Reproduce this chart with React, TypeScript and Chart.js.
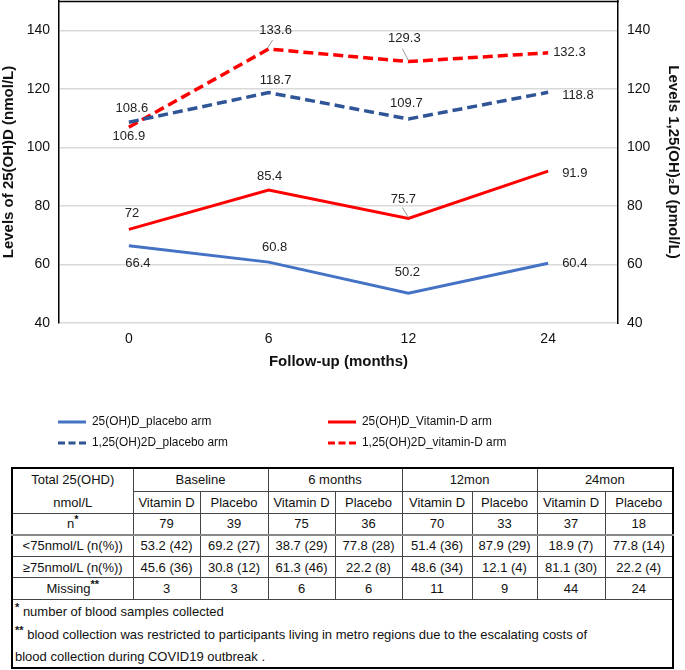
import React, { useEffect, useRef } from "react";
import { Chart, registerables } from "chart.js";

Chart.register(...registerables);

// ---- chart data ----
const months = ["0", "6", "12", "24"];
const placebo25 = [66.4, 60.8, 50.2, 60.4];
const vitD25 = [72, 85.4, 75.7, 91.9];
const placebo125 = [108.6, 118.7, 109.7, 118.8];
const vitD125 = [106.9, 133.6, 129.3, 132.3];
const yTicks = [40, 60, 80, 100, 120, 140];
const seriesNames = [
  "25(OH)D_placebo arm",
  "25(OH)D_Vitamin-D arm",
  "1,25(OH)2D_placebo arm",
  "1,25(OH)2D_vitamin-D arm",
];

// ---- table data ----
const tableGroups = ["Baseline", "6 months", "12mon", "24mon"];
const tableArms = ["Vitamin D", "Placebo"];
const nRow = ["79", "39", "75", "36", "70", "33", "37", "18"];
const below75Row = ["53.2 (42)", "69.2 (27)", "38.7 (29)", "77.8 (28)", "51.4 (36)", "87.9 (29)", "18.9 (7)", "77.8 (14)"];
const above75Row = ["45.6 (36)", "30.8 (12)", "61.3 (46)", "22.2 (8)", "48.6 (34)", "12.1 (4)", "81.1 (30)", "22.2 (4)"];
const missingRow = ["3", "3", "6", "6", "11", "9", "44", "24"];

const FONT = "'Liberation Sans', Arial, Helvetica, sans-serif";

// label placement (style only)
type Place = { dx: number; dy: number; align?: CanvasTextAlign; leader?: number[] };
const labelPlacements: Place[][] = [
  [{ dx: 9, dy: 18 }, { dx: 6, dy: -15 }, { dx: -1, dy: -21 }, { dx: 14, dy: 0, align: "left" }],
  [{ dx: 3, dy: -16 }, { dx: 1, dy: -14 }, { dx: -5, dy: -19, leader: [-6, -11, 0, -1] }, { dx: 14, dy: 2, align: "left" }],
  [{ dx: 3, dy: -14 }, { dx: 7, dy: -12 }, { dx: -2, dy: -16 }, { dx: 14, dy: 3, align: "left" }],
  [{ dx: 0, dy: 9 }, { dx: 7, dy: -19, leader: [4, -9, -1, -1] }, { dx: -4, dy: -23, leader: [-6, -13, 0, -1] }, { dx: 5, dy: 0, align: "left" }],
];
const legendSlots = [
  { x: 58, y: 422 },
  { x: 328, y: 422 },
  { x: 58, y: 443 },
  { x: 328, y: 443 },
];

const BLUE = "#4472C4";
const DARKBLUE = "#2F5597";
const RED = "#FF0000";

const extrasPlugin = {
  id: "extras",
  afterDatasetsDraw(chart: any) {
    const ctx = chart.ctx as CanvasRenderingContext2D;
    ctx.save();
    ctx.font = `13px ${FONT}`;
    ctx.fillStyle = "#222";
    ctx.textBaseline = "middle";
    chart.data.datasets.forEach((ds: any, di: number) => {
      const meta = chart.getDatasetMeta(di);
      meta.data.forEach((pt: any, i: number) => {
        const p = labelPlacements[di][i];
        ctx.textAlign = p.align || "center";
        ctx.fillText(String(ds.data[i]), pt.x + p.dx, pt.y + p.dy);
        if (p.leader) {
          ctx.strokeStyle = "#999";
          ctx.lineWidth = 1;
          ctx.beginPath();
          ctx.moveTo(pt.x + p.leader[0], pt.y + p.leader[1]);
          ctx.lineTo(pt.x + p.leader[2], pt.y + p.leader[3]);
          ctx.stroke();
        }
      });
    });
    // top frame line
    const { left, right, top } = chart.chartArea;
    ctx.strokeStyle = "#000";
    ctx.lineWidth = 1.5;
    ctx.beginPath();
    ctx.moveTo(left - 0.75, top + 0.5);
    ctx.lineTo(right + 0.75, top + 0.5);
    ctx.stroke();
    // legend
    ctx.font = `12.5px ${FONT}`;
    ctx.textAlign = "left";
    ctx.fillStyle = "#111";
    chart.data.datasets.forEach((ds: any, di: number) => {
      const s = legendSlots[di];
      ctx.strokeStyle = ds.borderColor;
      ctx.lineWidth = 3;
      ctx.setLineDash(ds.borderDash && ds.borderDash.length ? [7, 3.5] : []);
      ctx.beginPath();
      ctx.moveTo(s.x, s.y);
      ctx.lineTo(s.x + 28, s.y);
      ctx.stroke();
      ctx.setLineDash([]);
      const w = ctx.measureText(ds.label).width;
      ctx.fillText(ds.label, s.x + 34, s.y, w * 0.95);
    });
    ctx.restore();
  },
};

const fitV = (w: number) => (s: any) => {
  s.width = w;
  s.paddingTop = 0;
  s.paddingBottom = 0;
};

function LineChart() {
  const ref = useRef<HTMLCanvasElement>(null);
  useEffect(() => {
    if (!ref.current) return;
    const chart = new Chart(ref.current, {
      type: "line",
      data: {
        labels: months,
        datasets: [
          { label: seriesNames[0], data: placebo25, borderColor: BLUE, backgroundColor: BLUE, borderWidth: 3, pointRadius: 0, yAxisID: "y", borderDash: [] },
          { label: seriesNames[1], data: vitD25, borderColor: RED, backgroundColor: RED, borderWidth: 3, pointRadius: 0, yAxisID: "y", borderDash: [] },
          { label: seriesNames[2], data: placebo125, borderColor: DARKBLUE, backgroundColor: DARKBLUE, borderWidth: 3.5, pointRadius: 0, yAxisID: "y1", borderDash: [10, 5] },
          { label: seriesNames[3], data: vitD125, borderColor: RED, backgroundColor: RED, borderWidth: 3.5, pointRadius: 0, yAxisID: "y1", borderDash: [10, 5] },
        ],
      },
      options: {
        responsive: false,
        animation: false,
        layout: { padding: { top: 1, bottom: 87, left: 0, right: 0 } },
        plugins: { legend: { display: false }, tooltip: { enabled: false } },
        scales: {
          x: {
            type: "category",
            offset: true,
            grid: { display: false, drawTicks: false },
            border: { display: false },
            ticks: { color: "#111", font: { family: FONT, size: 14 }, padding: 8 },
            title: { display: true, text: "Follow-up (months)", color: "#111", font: { family: FONT, size: 15, weight: "bold" }, padding: { top: 0, bottom: 2 } },
            afterFit: (s: any) => {
              s.height = 50;
              s.paddingLeft = 0;
              s.paddingRight = 0;
            },
          },
          y: {
            position: "left",
            min: 40,
            max: 150,
            afterBuildTicks: (s: any) => { s.ticks = yTicks.map((v) => ({ value: v })); },
            grid: { color: "#d9d9d9", lineWidth: 1.5, drawTicks: false },
            border: { display: true, color: "#000", width: 1.5 },
            ticks: { color: "#111", font: { family: FONT, size: 14 }, padding: 9 },
            title: { display: true, text: "Levels of 25(OH)D (nmol/L)", color: "#111", font: { family: FONT, size: 15, weight: "bold" }, padding: { top: 0, bottom: 0 } },
            afterFit: fitV(59),
          },
          y1: {
            position: "right",
            min: 40,
            max: 150,
            afterBuildTicks: (s: any) => { s.ticks = yTicks.map((v) => ({ value: v })); },
            grid: { drawOnChartArea: false, drawTicks: false },
            border: { display: true, color: "#000", width: 1.5 },
            ticks: { color: "#111", font: { family: FONT, size: 14 }, padding: 9 },
            title: { display: true, text: "Levels 1,25(OH)\u2082D (pmol/L)", color: "#111", font: { family: FONT, size: 15, weight: "bold" }, padding: { top: 3, bottom: 0 } },
            afterFit: fitV(67),
          },
        },
      },
      plugins: [extrasPlugin],
    } as any);
    return () => chart.destroy();
  }, []);
  return <canvas ref={ref} width={685} height={460} style={{ position: "absolute", left: 0, top: 0 }} />;
}

const cell: React.CSSProperties = {
  border: "1px solid #444",
  textAlign: "center",
  padding: 0,
  whiteSpace: "nowrap",
};

const Star = ({ s }: { s: string }) => (
  <span style={{ position: "relative", top: -5, fontSize: 11, fontWeight: "bold", lineHeight: 0 }}>{s}</span>
);

function DataTable() {
  const rows: { head: React.ReactNode; vals: string[]; h: number; thick?: boolean }[] = [
    { head: <span>n<Star s="*" /></span>, vals: nRow, h: 21, thick: true },
    { head: "<75nmol/L (n(%))", vals: below75Row, h: 22 },
    { head: "\u226575nmol/L (n(%))", vals: above75Row, h: 21 },
    { head: <span>Missing<Star s="**" /></span>, vals: missingRow, h: 22 },
  ];
  const colW = [121, 67, 68, 67, 67, 70, 65, 68, 68];
  return (
    <table
      style={{
        position: "absolute",
        left: 11,
        top: 467,
        width: 663,
        borderCollapse: "collapse",
        tableLayout: "fixed",
        border: "2px solid #000",
        fontFamily: FONT,
        fontSize: 13,
        color: "#111",
        lineHeight: "15px",
      }}
    >
      <colgroup>
        {colW.map((w, i) => (
          <col key={i} style={{ width: w }} />
        ))}
      </colgroup>
      <tbody>
        <tr style={{ height: 23 }}>
          <td rowSpan={2} style={{ ...cell }}>
            <div style={{ height: 23, lineHeight: "22px" }}>Total 25(OHD)</div>
            <div style={{ height: 21, lineHeight: "21px" }}>nmol/L</div>
          </td>
          {tableGroups.map((g) => (
            <td key={g} colSpan={2} style={cell}>{g}</td>
          ))}
        </tr>
        <tr style={{ height: 22 }}>
          {tableGroups.map((g) =>
            tableArms.map((a) => (
              <td key={g + a} style={cell}>{a}</td>
            ))
          )}
        </tr>
        {rows.map((r, ri) => (
          <tr key={ri} style={{ height: r.h }}>
            <td style={{ ...cell, borderBottom: r.thick ? "2px solid #888" : cell.border }}>{r.head}</td>
            {r.vals.map((v, i) => (
              <td key={i} style={{ ...cell, borderBottom: r.thick ? "2px solid #888" : cell.border }}>{v}</td>
            ))}
          </tr>
        ))}
        <tr style={{ height: 67 }}>
          <td colSpan={9} style={{ border: "none", borderTop: "1px solid #444", padding: "0 0 0 2px", lineHeight: "23px", textAlign: "left", whiteSpace: "nowrap", verticalAlign: "top" }}>
            <div style={{ height: 23 }}><Star s="*" /> number of blood samples collected</div>
            <div style={{ height: 22 }}><Star s="**" /> blood collection was restricted to participants living in metro regions due to the escalating costs of</div>
            <div style={{ height: 22 }}>blood collection during COVID19 outbreak .</div>
          </td>
        </tr>
      </tbody>
    </table>
  );
}

export default function App() {
  return (
    <div style={{ position: "absolute", left: 0, top: 0, width: 685, height: 670, background: "#fff", fontFamily: FONT, overflow: "hidden" }}>
      <LineChart />
      <DataTable />
    </div>
  );
}
